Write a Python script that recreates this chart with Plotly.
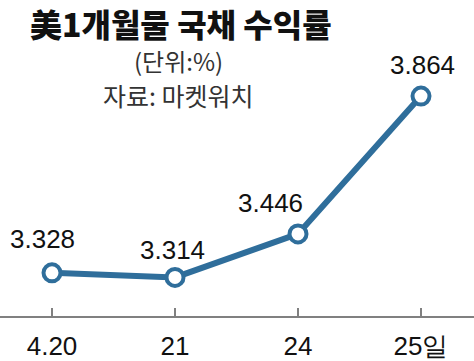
import plotly.graph_objects as go

dates = ["4.20", "21", "24", "25일"]
yields = [3.328, 3.314, 3.446, 3.864]
value_labels = ["3.328", "3.314", "3.446", "3.864"]
label_shift_x = [-10, -3, -28, 1]
label_shift_y = [34, 27, 31, 31]

title_text = "美1개월물 국채 수익률"
unit_text = "(단위:%)"
source_text = "자료: 마켓워치"

W, H = 474, 361
BOTTOM = 39
PLOT_H = H - BOTTOM

blue = "#2f6e9b"
num_font = "Liberation Sans, Arial, sans-serif"
cjk = "Noto Sans CJK KR, Noto Sans, sans-serif"

fig = go.Figure()
fig.add_trace(go.Scatter(
    x=list(range(len(dates))), y=yields,
    mode="lines+markers",
    line=dict(color=blue, width=6),
    marker=dict(size=17, color="white", line=dict(color=blue, width=4)),
    hoverinfo="skip", showlegend=False, cliponaxis=False,
))

for i, (v, t) in enumerate(zip(yields, value_labels)):
    fig.add_annotation(x=i, y=v, text=t, showarrow=False,
                       xshift=label_shift_x[i], yshift=label_shift_y[i],
                       font=dict(family=num_font, size=26, color="#111111"))

def py(pix):
    return 1 - pix / PLOT_H

fig.add_annotation(xref="paper", yref="paper", x=181 / W, y=py(23.6), text=title_text,
                   showarrow=False, xanchor="center", yanchor="middle", borderpad=0,
                   font=dict(family=cjk, size=32, color="#111111", weight=900))
fig.add_annotation(xref="paper", yref="paper", x=178 / W, y=py(62), text=unit_text,
                   showarrow=False, xanchor="center", yanchor="middle",
                   font=dict(family=cjk, size=24, color="#333333"))
fig.add_annotation(xref="paper", yref="paper", x=178 / W, y=py(97), text=source_text,
                   showarrow=False, xanchor="center", yanchor="middle",
                   font=dict(family=cjk, size=25, color="#333333"))

fig.update_layout(
    width=W, height=H,
    margin=dict(l=0, r=0, t=0, b=BOTTOM),
    paper_bgcolor="white", plot_bgcolor="white",
    xaxis=dict(
        range=[-52 / 123, -52 / 123 + W / 123],
        tickmode="array", tickvals=list(range(len(dates))), ticktext=dates,
        showgrid=False, zeroline=False,
        showline=True, linecolor="#808080", linewidth=1.5,
        ticks="inside", ticklen=8, tickwidth=1.5, tickcolor="#808080",
        ticklabelstandoff=6,
        tickfont=dict(family=num_font, size=26, color="#111111"),
    ),
    yaxis=dict(
        range=[3.328 - 44 / 336, 3.328 + 278 / 336],
        visible=False, showgrid=False, zeroline=False,
    ),
)

fig.write_html("out.html", config={"displayModeBar": False},
               post_script="document.body.style.margin='0';")
